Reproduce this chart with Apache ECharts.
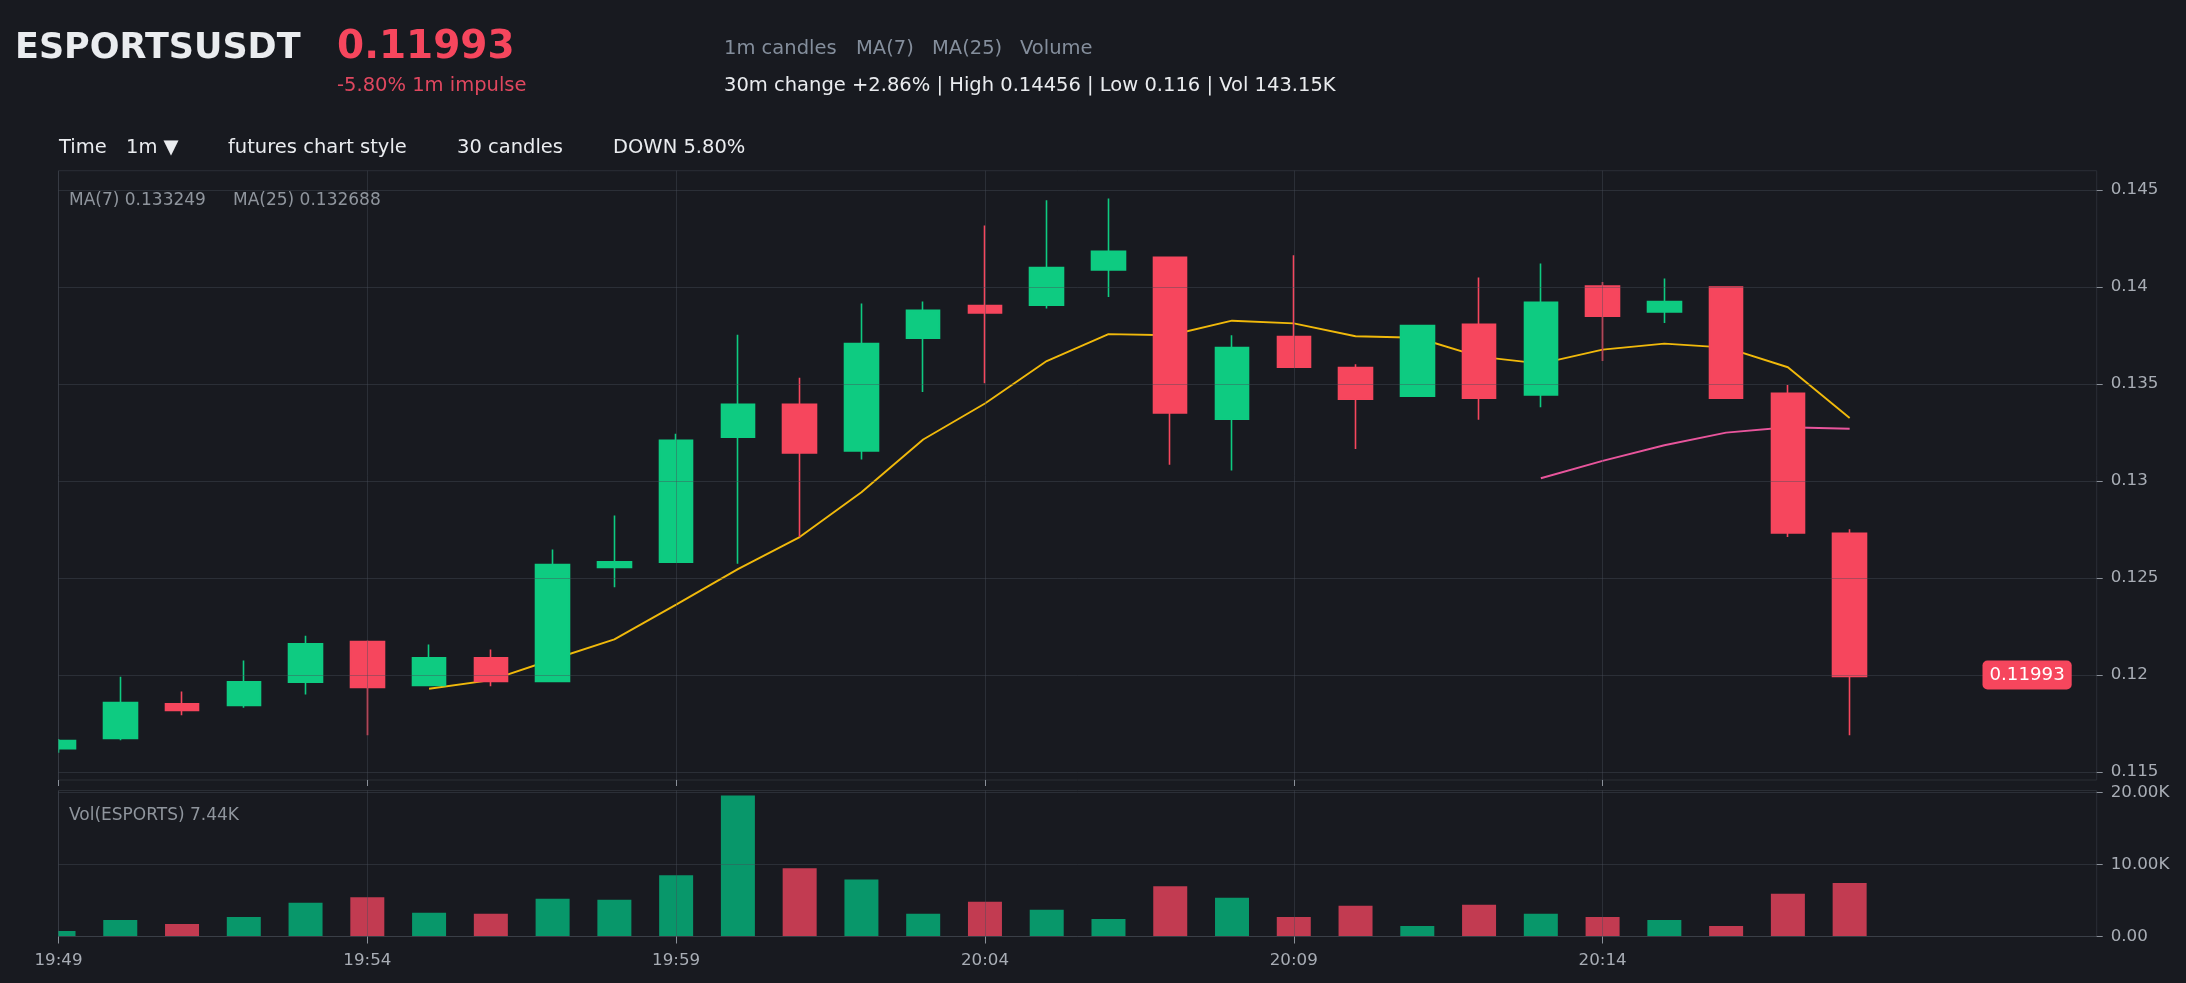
<!DOCTYPE html>
<html>
<head>
<meta charset="utf-8">
<script src="https://cdn.jsdelivr.net/npm/echarts@6/dist/echarts.min.js"></script>
<style>
html,body{margin:0;padding:0;background:#181a20;}
#c{width:2186px;height:983px;}
</style>
</head>
<body>
<div id="c"></div>
<script>
// ---------- data ----------
const times = ['19:49','19:50','19:51','19:52','19:53','19:54','19:55','19:56','19:57','19:58',
  '19:59','20:00','20:01','20:02','20:03','20:04','20:05','20:06','20:07','20:08',
  '20:09','20:10','20:11','20:12','20:13','20:14','20:15','20:16','20:17','20:18',
  '20:19','20:20','20:21','20:22'];
const opens  = [0.11620,0.11673,0.11852,0.11843,0.11963,0.12172,0.11946,0.12089,0.11967,0.12555,
  0.12582,0.13226,0.13395,0.13155,0.13736,0.13904,0.13906,0.14087,0.14153,0.13319,
  0.13744,0.13584,0.13437,0.13807,0.13443,0.14005,0.13871,0.13999,0.13452,0.12730];
const closes = [0.11662,0.11858,0.11818,0.11965,0.12161,0.11936,0.12089,0.11967,0.12569,0.12584,
  0.13210,0.13395,0.13144,0.13708,0.13879,0.13866,0.14100,0.14184,0.13351,0.13687,
  0.13586,0.13422,0.13801,0.13426,0.13921,0.13849,0.13925,0.13426,0.12732,0.11993];
const lows   = [0.11600,0.11664,0.11793,0.11831,0.11900,0.11689,0.11946,0.11942,0.11967,0.12452,
  0.12582,0.12574,0.12711,0.13111,0.13458,0.13504,0.13889,0.13948,0.13083,0.13054,
  0.13586,0.13165,0.13437,0.13315,0.13380,0.13618,0.13814,0.13426,0.12711,0.11690];
const highs  = [0.11670,0.11991,0.11915,0.12075,0.12203,0.12178,0.12157,0.12132,0.12647,0.12822,
  0.13243,0.13753,0.13532,0.13915,0.13925,0.14317,0.14447,0.14456,0.14153,0.13751,
  0.14163,0.13601,0.13801,0.14049,0.14121,0.14026,0.14043,0.14000,0.13494,0.12751];
const volumes = [750,2300,1740,2720,4690,5450,3290,3150,5260,5120,
  8500,19620,9480,7930,3150,4840,3710,2440,7000,5400,
  2720,4270,1460,4410,3150,2720,2300,1460,5960,7440];
const ma7 = ['-','-','-','-','-','-',0.11929,0.11974,0.12080,0.12184,
  0.12363,0.12546,0.12711,0.12942,0.13214,0.13399,0.13618,0.13757,0.13751,0.13826,
  0.13812,0.13746,0.13738,0.13641,0.13605,0.13677,0.13708,0.13687,0.13586,0.133249];
const ma25 = ['-','-','-','-','-','-','-','-','-','-','-','-','-','-','-','-','-','-','-','-',
  '-','-','-','-',0.13014,0.13104,0.13184,0.13249,0.13277,0.132688];
const priceTicks = [0.115,0.12,0.125,0.13,0.135,0.14,0.145];
const volTicks = [0,10000,20000];
const lastPrice = 0.11993;

// ---------- style ----------
const FONT = '"DejaVu Sans", "Noto Sans", sans-serif';
const BG = '#181a20';
const UP = '#0ecb81', DOWN = '#f6465d';
const VOL_UP = '#08976a', VOL_DOWN = '#c23b51';
const GRID_LINE = 'rgba(72,77,88,0.42)';
const BORDER = '#2a2e35';
const LABEL = '#a8adb5';
const showTick = (idx) => idx % 5 === 0 && idx < 30;

const candleData = opens.map((o, i) => [o, closes[i], lows[i], highs[i]]);
const volData = volumes.map((v, i) => ({
  value: v,
  itemStyle: { color: closes[i] >= opens[i] ? VOL_UP : VOL_DOWN }
}));

function txt(x, y, text, size, color, weight) {
  return { type: 'text', x: x, y: y, silent: true, z: 100,
    style: { text: text, fill: color, font: (weight || 'normal') + ' ' + size + 'px ' + FONT,
      verticalAlign: 'middle', align: 'left' } };
}

const chart = echarts.init(document.getElementById('c'), null, { renderer: 'canvas' });
chart.setOption({
  backgroundColor: BG,
  animation: false,
  textStyle: { fontFamily: FONT },
  graphic: [
    // mask so the half candle / half bar at the left edge is cut at the plot border
    { type: 'rect', silent: true, z: 90, shape: { x: 0, y: 168, width: 58, height: 769 }, style: { fill: BG } },
    txt(15, 49, 'ESPORTSUSDT', 35, '#eaecef', 'bold'),
    txt(337, 48, '0.11993', 39, '#f6465d', 'bold'),
    txt(337, 85.5, '-5.80% 1m impulse', 19.5, '#e0475f'),
    txt(724, 48.5, '1m candles', 19.5, '#848e9c'),
    txt(856, 48.5, 'MA(7)', 19.5, '#848e9c'),
    txt(932, 48.5, 'MA(25)', 19.5, '#848e9c'),
    txt(1020, 48.5, 'Volume', 19.5, '#848e9c'),
    txt(724, 85.5, '30m change +2.86% | High 0.14456 | Low 0.116 | Vol 143.15K', 19.5, '#eaecef'),
    txt(59, 147.5, 'Time', 19.5, '#eaecef'),
    txt(126, 147.5, '1m \u25BC', 19.5, '#eaecef'),
    txt(228, 147.5, 'futures chart style', 19.5, '#eaecef'),
    txt(457, 147.5, '30 candles', 19.5, '#eaecef'),
    txt(613, 147.5, 'DOWN 5.80%', 19.5, '#eaecef'),
    txt(69, 200.5, 'MA(7) 0.133249', 17, '#8f959d'),
    txt(233, 200.5, 'MA(25) 0.132688', 17, '#8f959d'),
    txt(69, 815.5, 'Vol(ESPORTS) 7.44K', 17, '#8f959d')
  ],
  grid: [
    { left: 58.5, right: 89.3, top: 170.7, height: 609.3, show: true, borderColor: BORDER, borderWidth: 1,
      backgroundColor: 'transparent', outerBoundsMode: 'none', containLabel: false },
    { left: 58.5, right: 89.3, top: 790.5, height: 146, show: true, borderColor: BORDER, borderWidth: 1,
      backgroundColor: 'transparent', outerBoundsMode: 'none', containLabel: false }
  ],
  xAxis: [
    { type: 'category', gridIndex: 0, data: times, boundaryGap: false, z: 3,
      axisLine: { show: false },
      axisTick: { show: true, interval: showTick, length: 6, lineStyle: { color: '#8a9099' } },
      axisLabel: { show: false },
      splitLine: { show: true, interval: showTick, lineStyle: { color: GRID_LINE, width: 1 } } },
    { type: 'category', gridIndex: 1, data: times, boundaryGap: false, z: 3,
      axisLine: { show: true, lineStyle: { color: '#3a3f47', width: 1 } },
      axisTick: { show: true, interval: showTick, length: 7, lineStyle: { color: '#8a9099' } },
      axisLabel: { show: true, interval: showTick, color: LABEL, fontSize: 16.7, fontFamily: FONT, margin: 15.5 },
      splitLine: { show: true, interval: showTick, lineStyle: { color: GRID_LINE, width: 1 } } }
  ],
  yAxis: [
    { type: 'value', gridIndex: 0, position: 'right', min: 0.11459, max: 0.14599, scale: true, z: 3,
      axisLine: { show: false },
      axisTick: { show: true, length: 6, customValues: priceTicks, lineStyle: { color: '#8a9099' } },
      axisLabel: { show: true, customValues: priceTicks, color: LABEL, fontSize: 16.7, fontFamily: FONT, margin: 14,
        padding: [2, 0, 0, 0] },
      splitLine: { show: true, lineStyle: { color: GRID_LINE, width: 1 } } },
    { type: 'value', gridIndex: 1, position: 'right', min: 0, max: 20300, z: 3,
      axisLine: { show: false },
      axisTick: { show: true, length: 6, customValues: volTicks, lineStyle: { color: '#8a9099' } },
      axisLabel: { show: true, customValues: volTicks, color: LABEL, fontSize: 16.7, fontFamily: FONT, margin: 14,
        padding: [3, 0, 0, 0],
        formatter: (v) => v === 0 ? '0.00' : (v / 1000).toFixed(2) + 'K' },
      splitLine: { show: true, lineStyle: { color: GRID_LINE, width: 1 } } }
  ],
  series: [
    { type: 'candlestick', name: 'K', xAxisIndex: 0, yAxisIndex: 0, data: candleData, barWidth: 34, z: 2,
      itemStyle: { color: UP, color0: DOWN, borderColor: UP, borderColor0: DOWN, borderWidth: 1.6 },
      markLine: { silent: true, symbol: ['none', 'none'], animation: false,
        lineStyle: { width: 0, color: 'rgba(0,0,0,0)' },
        label: { show: true, position: 'insideEnd', distance: [25, 0], formatter: () => '0.11993',
          color: '#ffffff', backgroundColor: '#f6465d', padding: [6, 7, 5, 7], borderRadius: 5,
          fontSize: 18.2, fontFamily: FONT, opacity: 1 },
        data: [{ yAxis: lastPrice }] } },
    { type: 'line', name: 'MA(7)', xAxisIndex: 0, yAxisIndex: 0, data: ma7, showSymbol: false, symbol: 'none',
      lineStyle: { color: '#f0b90b', width: 1.9 }, z: 2 },
    { type: 'line', name: 'MA(25)', xAxisIndex: 0, yAxisIndex: 0, data: ma25, showSymbol: false, symbol: 'none',
      lineStyle: { color: '#e8559c', width: 1.9 }, z: 2 },
    { type: 'bar', name: 'Volume', xAxisIndex: 1, yAxisIndex: 1, data: volData, barWidth: 34, z: 2 }
  ]
});
</script>
</body>
</html>
